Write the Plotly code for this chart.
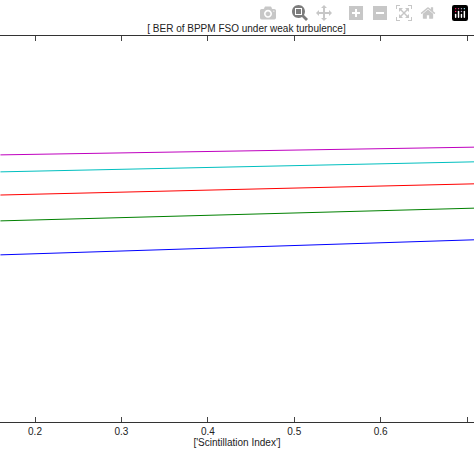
import plotly.graph_objects as go

x = [0.16, 0.708]
series = {
    "blue": [0.433, 0.472],
    "green": [0.521, 0.554],
    "red": [0.588, 0.617],
    "cyan": [0.648, 0.674],
    "magenta": [0.692, 0.712],
}
colors = {"blue": "#0000ff", "green": "#008000", "red": "#ff0000",
          "cyan": "#00bfbf", "magenta": "#bf00bf"}

fig = go.Figure()
for k, v in series.items():
    fig.add_trace(go.Scatter(x=x, y=v, mode="lines", line=dict(color=colors[k], width=1), showlegend=False))

fig.update_layout(
    width=474, height=474, plot_bgcolor="white", paper_bgcolor="white",
    margin=dict(l=0, r=0, t=36, b=52),
    title=dict(text="[ BER of BPPM FSO under weak turbulence]", x=0.52, y=0.947, xanchor="center",
               font=dict(family="Liberation Sans", size=10, color="#222")),
    font=dict(family="Liberation Sans", size=10, color="#222"),
)
fig.update_xaxes(range=[0.1595, 0.708], tickvals=[0.2, 0.3, 0.4, 0.5, 0.6, 0.7],
                 ticks="inside", ticklen=5, showline=True, linecolor="#333", mirror="ticks",
                 showgrid=False, zeroline=False,
                 title=dict(text="['Scintillation Index']", standoff=2, font=dict(size=10)))
fig.update_yaxes(range=[0, 1], showticklabels=False, showgrid=False, zeroline=False, showline=False)
fig.write_html("out.html", post_script="document.body.style.margin='0';document.body.style.overflow='hidden';")
